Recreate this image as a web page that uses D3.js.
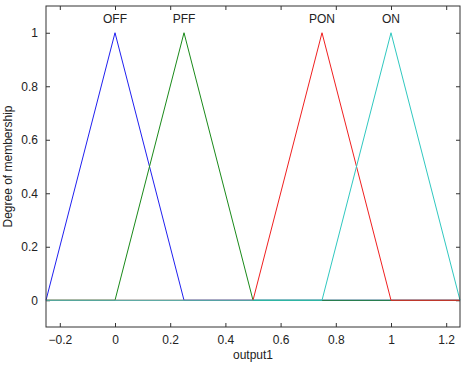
<!DOCTYPE html>
<html>
<head>
<meta charset="utf-8">
<script src="https://cdn.jsdelivr.net/npm/d3@7"></script>
<style>
  body { margin: 0; background: #fff; }
  text { font-family: "Liberation Sans", Arial, sans-serif; fill: #222; }
</style>
</head>
<body>
<div id="chart"></div>
<script>
// membership functions (triangular): name, params [a, b, c]
var mfNames = ["OFF", "PFF", "PON", "ON"];
var mfParams = [[-0.25, 0, 0.25], [0, 0.25, 0.5], [0.5, 0.75, 1], [0.75, 1, 1.25]];
var mfColors = ["#2020f0", "#1a8a1a", "#f02020", "#30c8c0"];
var xTicks = [-0.2, 0, 0.2, 0.4, 0.6, 0.8, 1, 1.2];
var yTicks = [0, 0.2, 0.4, 0.6, 0.8, 1];
var xRange = [-0.25, 1.25];

var margin = {top: 6, right: 14, bottom: 44, left: 46},
    width = 474 - margin.left - margin.right,
    height = 371 - margin.top - margin.bottom;

var svg = d3.select("#chart").append("svg")
    .attr("width", width + margin.left + margin.right)
    .attr("height", height + margin.top + margin.bottom)
    .append("g")
    .attr("transform", "translate(" + margin.left + "," + margin.top + ")");

var x = d3.scaleLinear().domain(xRange).range([0, width]);
var y = d3.scaleLinear().domain([-0.1, 1.1]).range([height, 0]);

// axes with inward ticks on all four sides
function styleAxis(g) {
  g.select(".domain").remove();
  g.selectAll("line").attr("stroke", "#333");
  g.selectAll("text").style("font-size", "12px").attr("fill", "#222");
}
svg.append("g")
    .attr("transform", "translate(0," + height + ")")
    .call(d3.axisBottom(x).tickValues(xTicks).tickSize(-4).tickPadding(8)
      .tickFormat(function(d) { return d3.format("")(+d.toFixed(1)); }))
    .call(styleAxis);
svg.append("g")
    .call(d3.axisTop(x).tickValues(xTicks).tickSize(-4).tickFormat(""))
    .call(styleAxis);
svg.append("g")
    .call(d3.axisLeft(y).tickValues(yTicks).tickSize(-4).tickPadding(8)
      .tickFormat(function(d) { return d3.format("")(+d.toFixed(1)); }))
    .call(styleAxis);
svg.append("g")
    .attr("transform", "translate(" + width + ",0)")
    .call(d3.axisRight(y).tickValues(yTicks).tickSize(-4).tickFormat(""))
    .call(styleAxis);

// membership curves, each over the full range
var line = d3.line().x(function(d) { return x(d[0]); }).y(function(d) { return y(d[1]); });
mfParams.forEach(function(p, i) {
  var pts = [[xRange[0], 0]];
  if (p[0] > xRange[0]) pts.push([p[0], 0]);
  pts.push([p[1], 1]);
  if (p[2] < xRange[1]) pts.push([p[2], 0]);
  pts.push([xRange[1], 0]);
  svg.append("path")
      .datum(pts)
      .attr("d", line)
      .attr("fill", "none")
      .attr("stroke", mfColors[i])
      .attr("stroke-width", 1);
  svg.append("text")
      .attr("x", x(p[1]))
      .attr("y", y(1) - 10)
      .attr("text-anchor", "middle")
      .style("font-size", "12px")
      .text(mfNames[i]);
});

// frame
svg.append("rect")
    .attr("width", width).attr("height", height)
    .attr("fill", "none").attr("stroke", "#333").attr("stroke-width", 1);

// labels
svg.append("text")
    .attr("x", width / 2).attr("y", height + 32)
    .attr("text-anchor", "middle").style("font-size", "12px")
    .text("output1");
svg.append("text")
    .attr("transform", "translate(" + (-34) + "," + (height / 2) + ") rotate(-90)")
    .attr("text-anchor", "middle").style("font-size", "12px")
    .text("Degree of membership");
</script>
</body>
</html>
